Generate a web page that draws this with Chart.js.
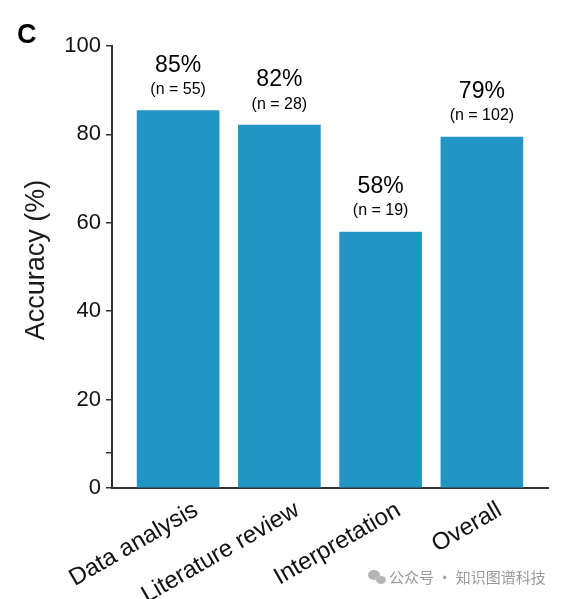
<!DOCTYPE html>
<html>
<head>
<meta charset="utf-8">
<script src="https://cdn.jsdelivr.net/npm/chart.js@4/dist/chart.umd.min.js"></script>
<style>
  html, body { margin: 0; padding: 0; background: #fff; }
  #wrap { position: relative; width: 561px; height: 599px; }
</style>
</head>
<body>
<div id="wrap"><canvas id="acc-chart" width="561" height="599"></canvas></div>
<script>
var categories = ["Data analysis", "Literature review", "Interpretation", "Overall"];
var accuracy = [85.4, 82.1, 57.9, 79.4];
var pctLabels = ["85%", "82%", "58%", "79%"];
var nLabels = ["(n = 55)", "(n = 28)", "(n = 19)", "(n = 102)"];
var yTicks = [0, 8, 20, 40, 60, 80, 100];
var yLabelled = [0, 20, 40, 60, 80, 100];

var font = "'Liberation Sans', Arial, sans-serif";

// labels above each bar + panel letter + axis title + watermark
var extraText = {
  id: 'extraText',
  afterDatasetsDraw: function(chart) {
    var ctx = chart.ctx;
    var meta = chart.getDatasetMeta(0);
    ctx.save();
    ctx.fillStyle = '#000';
    ctx.textAlign = 'center';
    ctx.textBaseline = 'middle';
    meta.data.forEach(function(bar, i) {
      ctx.font = "23px " + font;
      ctx.fillText(pctLabels[i], bar.x, bar.y - 45);
      ctx.font = "16px " + font;
      ctx.fillText(nLabels[i], bar.x, bar.y - 21);
    });

    ctx.font = "bold 27px " + font;
    ctx.textAlign = 'left';
    ctx.fillText("C", 17, 36);

    ctx.translate(37, 260);
    ctx.rotate(-Math.PI / 2);
    ctx.textAlign = 'center';
    ctx.font = "27px " + font;
    ctx.fillStyle = '#1a1a1a';
    ctx.fillText("Accuracy (%)", 0, 0);
    ctx.restore();

    // watermark
    ctx.save();
    ctx.fillStyle = '#b5b5b5';
    ctx.beginPath();
    ctx.ellipse(374, 575, 6, 5, 0, 0, Math.PI * 2);
    ctx.fill();
    ctx.beginPath();
    ctx.ellipse(381, 580, 5, 4, 0, 0, Math.PI * 2);
    ctx.fill();
    ctx.fillStyle = '#9a9a9a';
    ctx.font = "15px 'Noto Sans CJK SC', sans-serif";
    ctx.textAlign = 'left';
    ctx.textBaseline = 'middle';
    ctx.fillText("公众号 · 知识图谱科技", 389, 577);
    ctx.restore();
  }
};

new Chart(document.getElementById("acc-chart"), {
  type: 'bar',
  data: {
    datasets: [{
      data: accuracy.map(function(v, i) { return { x: i, y: v }; }),
      backgroundColor: '#2196C4',
      borderWidth: 0,
      barThickness: 82
    }]
  },
  options: {
    responsive: false,
    animation: false,
    layout: { padding: { top: 46, right: 13, left: 0, bottom: 0 } },
    plugins: { legend: { display: false }, tooltip: { enabled: false } },
    scales: {
      x: {
        type: 'linear',
        offset: false,
        min: -0.653,
        max: 3.653,
        grid: { display: false, drawTicks: false, offset: false },
        border: { display: true, color: '#333', width: 2 },
        afterBuildTicks: function(scale) {
          scale.ticks = categories.map(function(c, i) { return { value: i }; });
        },
        afterFit: function(scale) { scale.height = 111; },
        ticks: {
          autoSkip: false,
          maxRotation: 30,
          minRotation: 30,
          padding: 8,
          labelOffset: 18,
          color: '#111',
          font: { family: font, size: 24 },
          callback: function(v) { return categories[v] || ''; }
        }
      },
      y: {
        min: 0,
        max: 100,
        grid: { drawOnChartArea: false, drawTicks: true, tickLength: 6, color: '#333', lineWidth: 1.5 },
        border: { display: true, color: '#333', width: 2 },
        afterBuildTicks: function(scale) {
          scale.ticks = yTicks.map(function(v) { return { value: v }; });
        },
        afterFit: function(scale) { scale.width = 112; },
        ticks: {
          padding: 5,
          color: '#111',
          font: { family: font, size: 22 },
          callback: function(v) { return yLabelled.indexOf(v) >= 0 ? v : ''; }
        }
      }
    }
  },
  plugins: [extraText]
});
</script>
</body>
</html>
